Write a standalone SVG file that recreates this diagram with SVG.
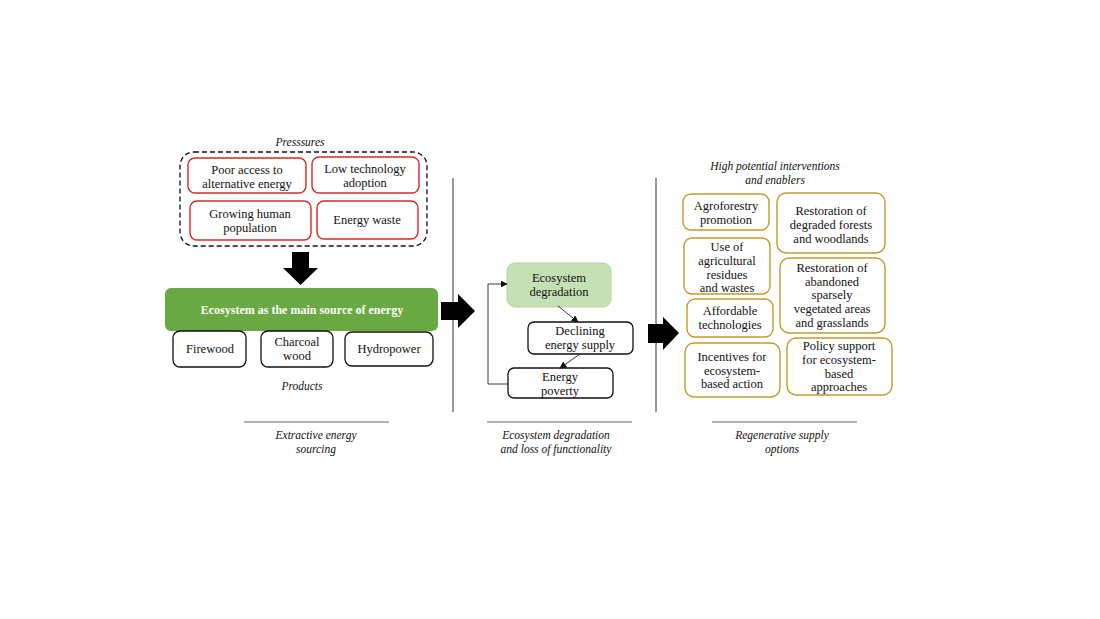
<svg xmlns="http://www.w3.org/2000/svg" width="1100" height="619" viewBox="0 0 1100 619">
<defs>
<style>
text{font-family:"Liberation Serif","Times New Roman",serif;font-size:12.5px;fill:#111;text-anchor:middle}
.it{font-style:italic;font-size:11.5px}
.red{fill:#fff;stroke:#d62a2a;stroke-width:1.4}
.blk{fill:#fff;stroke:#111;stroke-width:1.3}
.gold{fill:#fff;stroke:#c49a2c;stroke-width:1.4}
.div{stroke:#333;stroke-width:1}
.rule{stroke:#999;stroke-width:1.3}
.con{stroke:#222;stroke-width:0.9;fill:none}
</style>
<marker id="ah" viewBox="0 0 10 10" refX="9" refY="5" markerWidth="7" markerHeight="7" orient="auto" markerUnits="userSpaceOnUse"><path d="M0,0 L10,5 L0,10 z" fill="#111"/></marker>
</defs>
<rect width="1100" height="619" fill="#fff"/>

<g id="pressures">
<text class="it" x="300" y="146">Presssures</text>
<rect x="180" y="152" width="247" height="94" rx="14" fill="none" stroke="#111" stroke-width="1.3" stroke-dasharray="5,3"/>
</g>
<g id="poor-access"><rect class="red" x="188" y="158" width="118" height="35" rx="7"/><text x="247" y="174">Poor access to</text><text x="247" y="188">alternative energy</text></g>
<g id="low-tech"><rect class="red" x="312" y="157" width="107" height="36" rx="7"/><text x="365" y="173">Low technology</text><text x="365" y="187">adoption</text></g>
<g id="growing"><rect class="red" x="190" y="201" width="121" height="39" rx="7"/><text x="250" y="218">Growing human</text><text x="250" y="232">population</text></g>
<g id="waste"><rect class="red" x="317" y="201" width="101" height="38" rx="7"/><text x="367" y="224">Energy waste</text></g>

<g id="main-source">
<rect x="165" y="288" width="273" height="43" rx="6" fill="#6aa843"/>
<text x="302" y="314" style="fill:#fff;font-weight:bold;font-size:12px">Ecosystem as the main source of energy</text>
</g>
<g id="firewood"><rect class="blk" x="173" y="331" width="73" height="36" rx="7"/><text x="210" y="353">Firewood</text></g>
<g id="charcoal"><rect class="blk" x="261" y="331" width="72" height="36" rx="7"/><text x="297" y="346">Charcoal</text><text x="297" y="360">wood</text></g>
<g id="hydro"><rect class="blk" x="345" y="332" width="88" height="34" rx="7"/><text x="389" y="353">Hydropower</text></g>
<text class="it" x="302" y="390">Products</text>

<g id="dividers">
<line class="div" x1="453" y1="178" x2="453" y2="412"/>
<line class="div" x1="656" y1="178" x2="656" y2="412"/>
<line class="rule" x1="244" y1="422" x2="389" y2="422"/>
<line class="rule" x1="487" y1="422" x2="632" y2="422"/>
<line class="rule" x1="712" y1="422" x2="857" y2="422"/>
</g>
<text class="it" x="316" y="439">Extractive energy</text>
<text class="it" x="316" y="453">sourcing</text>
<text class="it" x="556" y="439">Ecosystem degradation</text>
<text class="it" x="556" y="453">and loss of functionality</text>
<text class="it" x="782" y="439">Regenerative supply</text>
<text class="it" x="782" y="453">options</text>

<g id="eco-degradation"><rect x="507" y="263" width="104" height="44" rx="8" fill="#c5e0b4" stroke="#b8d3a6" stroke-width="1"/><text x="559" y="282">Ecosystem</text><text x="559" y="296">degradation</text></g>
<g id="declining"><rect class="blk" x="528" y="322" width="105" height="32" rx="6"/><text x="580" y="335">Declining</text><text x="580" y="349">energy supply</text></g>
<g id="poverty"><rect class="blk" x="508" y="368" width="105" height="30" rx="6"/><text x="560" y="381">Energy</text><text x="560" y="395">poverty</text></g>

<text class="it" x="775" y="170">High potential interventions</text>
<text class="it" x="775" y="184">and enablers</text>
<g id="agroforestry"><rect class="gold" x="683" y="194" width="86" height="36" rx="8"/><text x="726" y="210">Agroforestry</text><text x="726" y="224">promotion</text></g>
<g id="restoration-forests"><rect class="gold" x="777" y="193" width="108" height="60" rx="9"/><text x="831" y="215">Restoration of</text><text x="831" y="229">degraded forests</text><text x="831" y="243">and woodlands</text></g>
<g id="residues"><rect class="gold" x="684" y="238" width="86" height="56" rx="8"/><text x="727" y="251">Use of</text><text x="727" y="265">agricultural</text><text x="727" y="279">residues</text><text x="727" y="292">and wastes</text></g>
<g id="restoration-grass"><rect class="gold" x="780" y="258" width="105" height="75" rx="9"/><text x="832" y="272">Restoration of</text><text x="832" y="286">abandoned</text><text x="832" y="299">sparsely</text><text x="832" y="313">vegetated areas</text><text x="832" y="327">and grasslands</text></g>
<g id="affordable"><rect class="gold" x="687" y="299" width="86" height="38" rx="8"/><text x="730" y="315">Affordable</text><text x="730" y="329">technologies</text></g>
<g id="incentives"><rect class="gold" x="685" y="343" width="95" height="54" rx="9"/><text x="732" y="361">Incentives for</text><text x="732" y="375">ecosystem-</text><text x="732" y="388">based action</text></g>
<g id="policy"><rect class="gold" x="787" y="338" width="105" height="57" rx="9"/><text x="839" y="350">Policy support</text><text x="839" y="364">for ecosystem-</text><text x="839" y="378">based</text><text x="839" y="391">approaches</text></g>

<g id="connectors">
<polygon points="292,252 309,252 309,268 318,268 300.5,285 283,268 292,268" fill="#000"/>
<polygon points="441,302 458,302 458,294 475,311 458,328 458,320 441,320" fill="#000"/>
<polygon points="648,324 663,324 663,317 679,333 663,350 663,343 648,343" fill="#000"/>
<line class="con" x1="558" y1="306" x2="578" y2="322" marker-end="url(#ah)"/>
<line class="con" x1="580" y1="354" x2="560" y2="368" marker-end="url(#ah)"/>
<polyline class="con" points="508,384 488,384 488,284 507,284" marker-end="url(#ah)"/>
</g>
</svg>
